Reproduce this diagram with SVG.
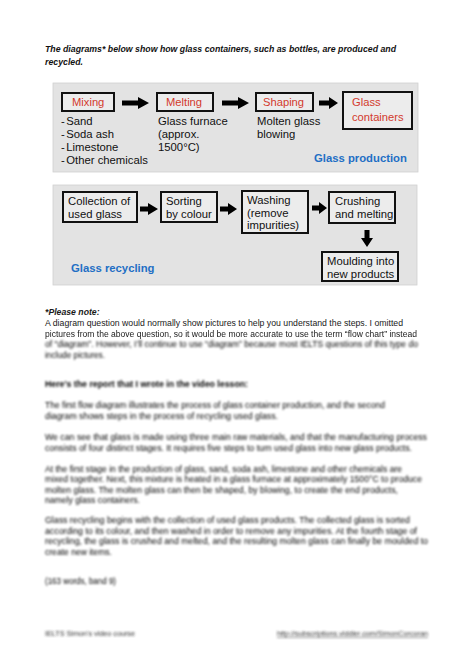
<svg xmlns="http://www.w3.org/2000/svg" width="474" height="670" viewBox="0 0 474 670">
<defs>
<style>
.hdr{font-family:"Liberation Sans",Arial,sans-serif;font-size:9.5px;font-weight:bold;font-style:italic;fill:#111}
.body{font-family:"Liberation Sans",Arial,sans-serif;font-size:8.7px;fill:#1a1a1a}
.bl{fill:#000;font-size:9px}
.bb{font-weight:bold}
.panel{fill:#e3e3e3;stroke:#d0d0d0;stroke-width:0.8}
.box{fill:#ececec;stroke:#111;stroke-width:2}
.red{font-family:"Liberation Sans",Arial,sans-serif;font-size:11.2px;fill:#d33a2c}
.lbl{font-family:"Liberation Sans",Arial,sans-serif;font-size:11.3px;fill:#111}
.blue{font-family:"Liberation Sans",Arial,sans-serif;font-size:11.3px;font-weight:bold;fill:#1f6fc5}
.arr{fill:#000}
.foot{font-family:"Liberation Sans",Arial,sans-serif;font-size:7.2px;fill:#333}
</style>
<filter id="blur" x="-5%" y="-50%" width="110%" height="200%"><feGaussianBlur stdDeviation="1.15"/></filter>
<filter id="blurl" x="-5%" y="-50%" width="110%" height="200%"><feGaussianBlur stdDeviation="0.6"/></filter>
</defs>
<rect width="474" height="670" fill="#ffffff"/>

<g id="header">
<text class="hdr" x="45" y="52" textLength="351" lengthAdjust="spacingAndGlyphs">The diagrams* below show how glass containers, such as bottles, are produced and</text>
<text class="hdr" x="45" y="65" textLength="38" lengthAdjust="spacingAndGlyphs">recycled.</text>
</g>

<g id="production-panel">
<rect class="panel" x="53" y="83" width="365" height="89"/>
<text class="blue" x="314" y="162">Glass production</text>
</g>

<g id="mixing">
<rect class="box" x="62" y="93" width="52" height="18"/>
<text class="red" x="72" y="106">Mixing</text>
<text class="lbl" x="61" y="125">-<tspan dx="1.5">Sand</tspan></text>
<text class="lbl" x="61" y="138">-<tspan dx="1.5">Soda ash</tspan></text>
<text class="lbl" x="61" y="151">-<tspan dx="1.5">Limestone</tspan></text>
<text class="lbl" x="61" y="164">-<tspan dx="1.5">Other chemicals</tspan></text>
</g>
<g id="melting">
<rect class="box" x="157" y="93" width="56" height="18"/>
<text class="red" x="166" y="106">Melting</text>
<text class="lbl" x="158" y="125">Glass furnace</text>
<text class="lbl" x="158" y="138">(approx.</text>
<text class="lbl" x="158" y="151">1500°C)</text>
</g>
<g id="shaping">
<rect class="box" x="256" y="93" width="57" height="18"/>
<text class="red" x="263" y="106">Shaping</text>
<text class="lbl" x="257" y="125">Molten glass</text>
<text class="lbl" x="257" y="138">blowing</text>
</g>
<g id="glass-containers">
<rect class="box" x="343" y="92" width="69" height="37"/>
<text class="red" x="352" y="106">Glass</text>
<text class="red" x="352" y="121">containers</text>
</g>

<g id="recycling-panel">
<rect class="panel" x="53" y="185" width="364" height="100"/>
<text class="blue" x="71" y="272">Glass recycling</text>
</g>
<g id="collection">
<rect class="box" x="63" y="192" width="74" height="30"/>
<text class="lbl" x="68" y="205">Collection of</text>
<text class="lbl" x="68" y="218">used glass</text>
</g>
<g id="sorting">
<rect class="box" x="161" y="192" width="56" height="30"/>
<text class="lbl" x="166" y="205">Sorting</text>
<text class="lbl" x="166" y="218">by colour</text>
</g>
<g id="washing">
<rect class="box" x="242" y="191" width="66" height="42"/>
<text class="lbl" x="247" y="204">Washing</text>
<text class="lbl" x="247" y="216.5">(remove</text>
<text class="lbl" x="247" y="229">impurities)</text>
</g>
<g id="crushing">
<rect class="box" x="329" y="192" width="66" height="31"/>
<text class="lbl" x="335" y="205">Crushing</text>
<text class="lbl" x="335" y="218">and melting</text>
</g>
<g id="moulding">
<rect class="box" x="322" y="252" width="76" height="29"/>
<text class="lbl" x="327" y="265">Moulding into</text>
<text class="lbl" x="327" y="277.5">new products</text>
</g>

<g id="connectors">
<polygon class="arr" points="122,100.5 138,100.5 138,97 149,103 138,109 138,105.5 122,105.5"/>
<polygon class="arr" points="222,100.5 238,100.5 238,97 249,103 238,109 238,105.5 222,105.5"/>
<polygon class="arr" points="319,100.5 329,100.5 329,97 338,103 329,109 329,105.5 319,105.5"/>
<polygon class="arr" points="140,206.5 148,206.5 148,203 158,209 148,215 148,211.5 140,211.5"/>
<polygon class="arr" points="220,206.5 228,206.5 228,203 237,209 228,215 228,211.5 220,211.5"/>
<polygon class="arr" points="312,205.5 319,205.5 319,202 327,208 319,214 319,210.5 312,210.5"/>
<polygon class="arr" points="364.5,230 369.5,230 369.5,238 373,238 367,247 361,238 364.5,238"/>
</g>

<g id="note">
<text class="body bb" x="45" y="315" font-style="italic">*Please note:</text>
<text class="body" x="45" y="326" textLength="358" lengthAdjust="spacingAndGlyphs">A diagram question would normally show pictures to help you understand the steps. I omitted</text>
<g filter="url(#blurl)">
<text class="body" x="45" y="336.5" textLength="372" lengthAdjust="spacingAndGlyphs">pictures from the above question, so it would be more accurate to use the term “flow chart” instead</text>
</g>
<g filter="url(#blur)">
<text class="body bl" x="45" y="347" textLength="373" lengthAdjust="spacingAndGlyphs">of “diagram”. However, I’ll continue to use “diagram” because most IELTS questions of this type do</text>
<text class="body bl" x="45" y="357.5" textLength="60" lengthAdjust="spacingAndGlyphs">include pictures.</text>
</g>
</g>

<g id="report" filter="url(#blur)">
<text class="body bl bb" x="45" y="387" textLength="203" lengthAdjust="spacingAndGlyphs">Here's the report that I wrote in the video lesson:</text>
<text class="body bl" x="45" y="408" textLength="340" lengthAdjust="spacingAndGlyphs">The first flow diagram illustrates the process of glass container production, and the second</text>
<text class="body bl" x="45" y="418.5" textLength="233" lengthAdjust="spacingAndGlyphs">diagram shows steps in the process of recycling used glass.</text>
<text class="body bl" x="45" y="440" textLength="382" lengthAdjust="spacingAndGlyphs">We can see that glass is made using three main raw materials, and that the manufacturing process</text>
<text class="body bl" x="45" y="450.5" textLength="367" lengthAdjust="spacingAndGlyphs">consists of four distinct stages. It requires five steps to turn used glass into new glass products.</text>
<text class="body bl" x="45" y="471.5" textLength="357" lengthAdjust="spacingAndGlyphs">At the first stage in the production of glass, sand, soda ash, limestone and other chemicals are</text>
<text class="body bl" x="45" y="482" textLength="377" lengthAdjust="spacingAndGlyphs">mixed together. Next, this mixture is heated in a glass furnace at approximately 1500°C to produce</text>
<text class="body bl" x="45" y="492.5" textLength="353" lengthAdjust="spacingAndGlyphs">molten glass. The molten glass can then be shaped, by blowing, to create the end products,</text>
<text class="body bl" x="45" y="503" textLength="95" lengthAdjust="spacingAndGlyphs">namely glass containers.</text>
<text class="body bl" x="45" y="523" textLength="365" lengthAdjust="spacingAndGlyphs">Glass recycling begins with the collection of used glass products. The collected glass is sorted</text>
<text class="body bl" x="45" y="533.5" textLength="372" lengthAdjust="spacingAndGlyphs">according to its colour, and then washed in order to remove any impurities. At the fourth stage of</text>
<text class="body bl" x="45" y="544" textLength="383" lengthAdjust="spacingAndGlyphs">recycling, the glass is crushed and melted, and the resulting molten glass can finally be moulded to</text>
<text class="body bl" x="45" y="554.5" textLength="67" lengthAdjust="spacingAndGlyphs">create new items.</text>
<text class="body bl" x="45" y="584" textLength="71" lengthAdjust="spacingAndGlyphs">(163 words, band 9)</text>
</g>

<g id="footer" filter="url(#blur)">
<text class="foot" x="45" y="636" textLength="90" lengthAdjust="spacingAndGlyphs">IELTS Simon's video course</text>
<text class="foot" x="277" y="636" textLength="151" lengthAdjust="spacingAndGlyphs">http://subscriptions.viddler.com/SimonCorcoran</text>
<line x1="277" y1="637.5" x2="428" y2="637.5" stroke="#555" stroke-width="0.6"/>
</g>
</svg>
